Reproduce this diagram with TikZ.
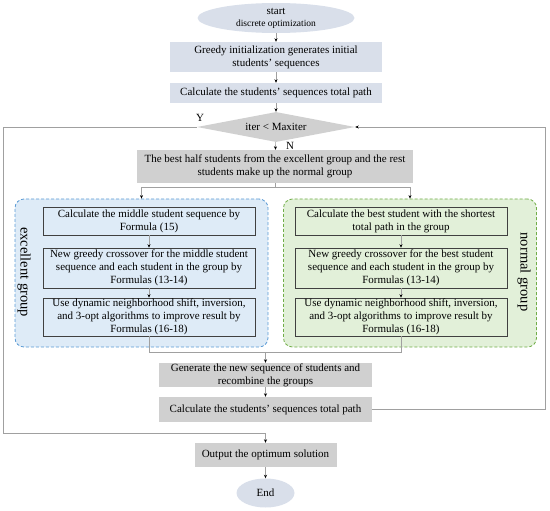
\documentclass[tikz,border=0pt]{standalone}
\usepackage{fontspec}
\setmainfont{Liberation Serif}
\usetikzlibrary{shapes.geometric,arrows.meta}
\definecolor{topblue}{HTML}{D9DFEA}
\definecolor{boxgray}{HTML}{D0D0D0}
\definecolor{excfill}{HTML}{DEEBF7}
\definecolor{excline}{HTML}{5B9BD5}
\definecolor{norfill}{HTML}{E2F0D9}
\definecolor{norline}{HTML}{70AD47}
\definecolor{innerline}{HTML}{404040}
\definecolor{linegray}{HTML}{A0A0A0}

\begin{document}
\begin{tikzpicture}[x=1pt, y=-1pt, font=\fontsize{11}{13}\selectfont,
  topbox/.style={fill=topblue, inner sep=0pt, align=center},
  graybox/.style={fill=boxgray, inner sep=0pt, align=center},
  innerbox/.style={draw=innerline, line width=0.6pt, inner sep=0pt, align=center, minimum width=212pt},
  groupbox/.style={rounded corners=9pt, dash pattern=on 3pt off 2pt, line width=0.8pt, minimum width=253pt, minimum height=148pt},
  grouplabel/.style={rotate=-90, font=\fontsize{14.5}{16}\selectfont},
  line/.style={draw=linegray, line width=0.6pt, -{Stealth[length=3.5pt,width=3pt,black]}},
  plain/.style={draw=linegray, line width=0.6pt}]
  \useasboundingbox (0,0) rectangle (550,511);

  \node[topbox, ellipse, minimum width=157pt, minimum height=30pt] (start) at (276,18)
    {start\\[-1pt]{\fontsize{9.5}{11}\selectfont discrete optimization}};
  \node[topbox, minimum width=212pt, minimum height=30pt] (greedy) at (276,57)
    {Greedy initialization generates initial\\ students’ sequences};
  \node[topbox, minimum width=212pt, minimum height=20pt] (calc) at (276,93)
    {Calculate the students’ sequences total path};
  \node[graybox, diamond, aspect=5.27, minimum width=158pt, minimum height=30pt] (cond) at (276,127)
    {iter < Maxiter};
  \node (ylabel) at (200,118) {Y};
  \node (nlabel) at (290,146) {N};
  \node[graybox, minimum width=276pt, minimum height=33pt] (half) at (275,166.5)
    {The best half students from the excellent group and the rest\\ students make up the normal group};

  \node[groupbox, draw=excline, fill=excfill] (exc) at (141.5,273) {};
  \node[groupbox, draw=norline, fill=norfill] (nor) at (410,273) {};
  \node[grouplabel] (exclabel) at (24,272) {excellent group};
  \node[grouplabel] (norlabel) at (524,272) {normal group};

  \node[innerbox, minimum height=28pt] (e1) at (149,221)
    {Calculate the middle student sequence by\\ Formula (15)};
  \node[innerbox, minimum height=40pt] (e2) at (149,268)
    {New greedy crossover for the middle student\\ sequence and each student in the group by\\ Formulas (13-14)};
  \node[innerbox, minimum height=38pt] (e3) at (149,317)
    {Use dynamic neighborhood shift, inversion,\\ and 3-opt algorithms to improve result by\\ Formulas (16-18)};
  \node[innerbox, minimum height=28pt] (n1) at (401,221)
    {Calculate the best student with the shortest\\ total path in the group};
  \node[innerbox, minimum height=40pt] (n2) at (401,268)
    {New greedy crossover for the best student\\ sequence and each student in the group by\\ Formulas (13-14)};
  \node[innerbox, minimum height=38pt] (n3) at (401,317)
    {Use dynamic neighborhood shift, inversion,\\ and 3-opt algorithms to improve result by\\ Formulas (16-18)};

  \node[graybox, minimum width=213pt, minimum height=24pt] (gen) at (265.5,375)
    {Generate the new sequence of students and\\ recombine the groups};
  \node[graybox, minimum width=213pt, minimum height=25pt] (calc2) at (265.5,409.5)
    {Calculate the students’ sequences total path};
  \node[graybox, minimum width=142pt, minimum height=24pt] (out) at (265.5,455)
    {Output the optimum solution};
  \node[topbox, ellipse, minimum width=58pt, minimum height=29pt] (end) at (265.5,493) {End};

  \coordinate (split) at (275,187);
  \coordinate (merge) at (265.5,352);
  \coordinate (lcorner) at (3,433);
  \coordinate (rcorner) at (545,127);

  \draw[line] (start) -- (greedy);
  \draw[line] (greedy) -- (calc);
  \draw[line] (calc) -- (cond);
  \draw[line] (cond) -- (half);
  \draw[plain] (half) -- (split);
  \draw[line] (split) -| (exc.north);
  \draw[line] (split) -| (nor.north);
  \draw[line] (e1) -- (e2);
  \draw[line] (e2) -- (e3);
  \draw[line] (n1) -- (n2);
  \draw[line] (n2) -- (n3);
  \draw[plain] (e3.south) |- (merge);
  \draw[plain] (n3.south) |- (merge);
  \draw[line] (merge) -- (gen);
  \draw[line] (gen) -- (calc2);
  \draw[line] (calc2.east) -| (rcorner) -- (cond.east);
  \draw[line] (cond.west) -| (lcorner) -| (out.north);
  \draw[line] (out) -- (end);
\end{tikzpicture}
\end{document}
